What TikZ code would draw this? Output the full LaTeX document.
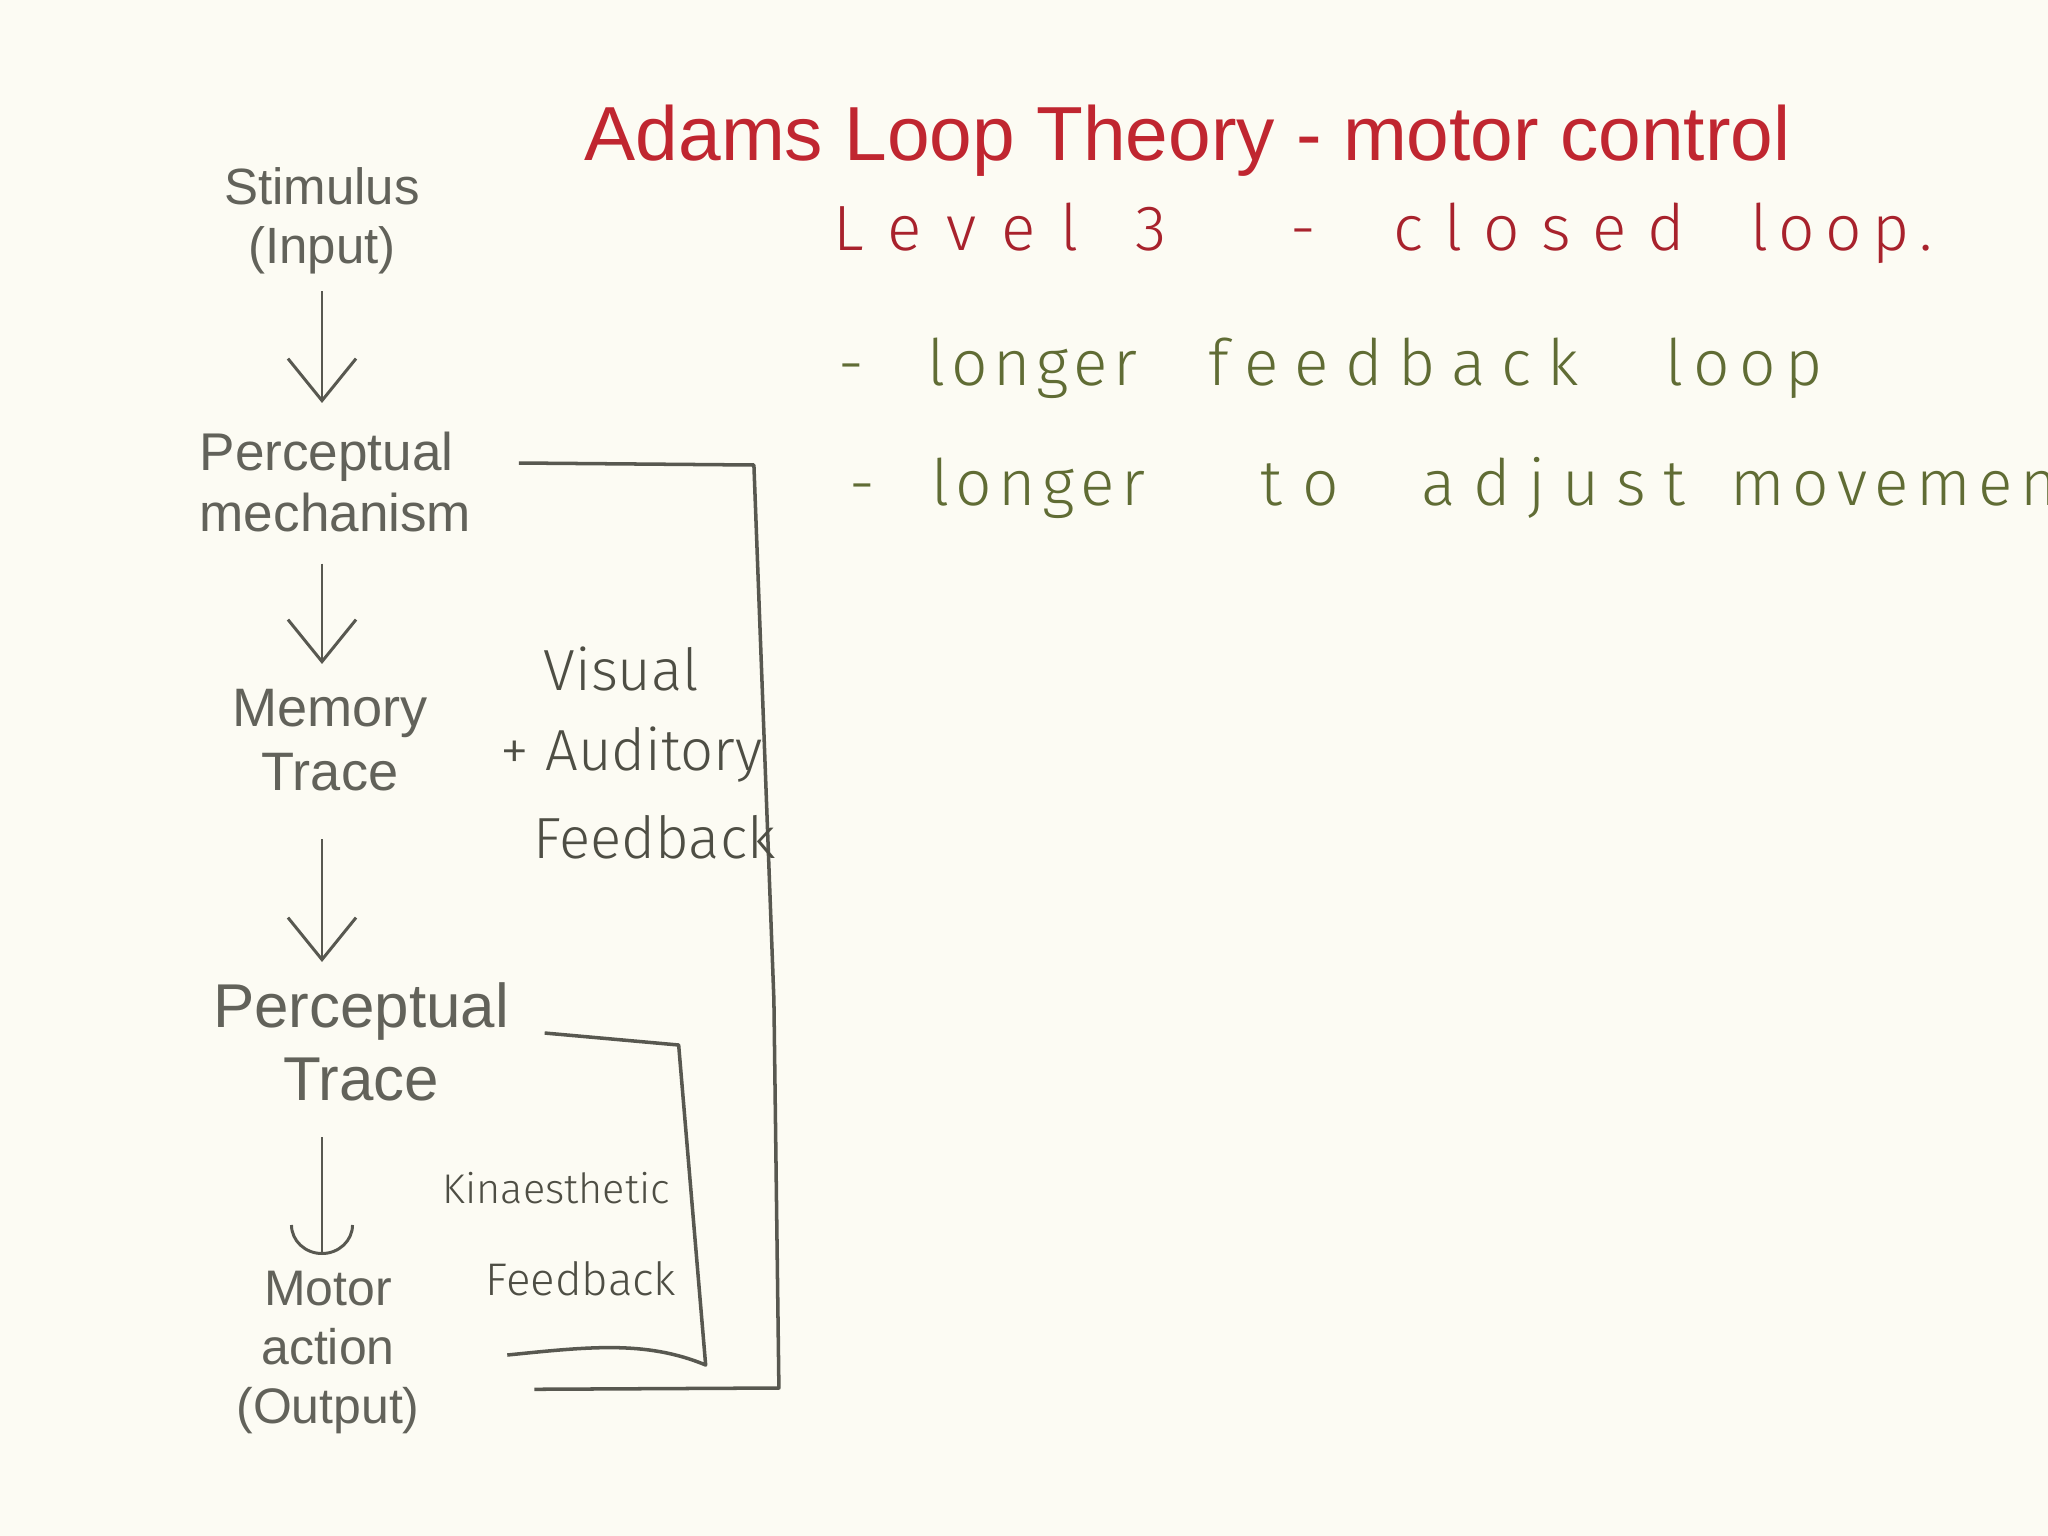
\documentclass[tikz,border=0pt]{standalone}
\usepackage{fontspec}
\setmainfont{Liberation Sans}
\newfontfamily\hand{Fira Sans Light}
\usetikzlibrary{arrows.meta, calc, positioning}
\definecolor{slide_bg}{RGB}{252,251,243}
\definecolor{slide_gray}{RGB}{98,98,90}
\definecolor{title_red}{RGB}{192,38,48}
\definecolor{pen_red}{RGB}{168,34,44}
\definecolor{pen_green}{RGB}{96,108,52}
\definecolor{pen_black}{RGB}{78,78,68}
\definecolor{line_gray}{RGB}{88,88,80}
\newcommand{\fsz}[2]{\fontsize{#1}{#2}\selectfont}
\tikzset{
    slidetext/.style={inner sep=0pt, text=slide_gray, align=center},
    pen/.style={inner sep=0pt, anchor=base west},
    flowarrow/.style={draw=line_gray, line width=0.85pt,
        -{Straight Barb[length=0.42cm, width=0.68cm]}},
    loopline/.style={draw=line_gray, line width=1pt, line join=round},
}

\begin{document}
\begin{tikzpicture}[x=0.01cm, y=-0.01cm]
    \fill[slide_bg] (0,0) rectangle (2048,1536);
    \useasboundingbox (0,0) rectangle (2048,1536);

    % title
    \node[pen, text=title_red, font=\fsz{21.8pt}{26pt}] (title) at (584,160)
        {Adams Loop Theory - motor control};

    % flow column
    \node[slidetext, anchor=north, font=\fsz{14.5pt}{16.8pt}] (stim) at (322,167)
        {Stimulus\\(Input)};
    \node[slidetext, align=left, anchor=north west, font=\fsz{15.1pt}{17.4pt}] (mech) at (199,431)
        {Perceptual\\mechanism};
    \node[slidetext, anchor=north, font=\fsz{15.4pt}{18.2pt}] (mem) at (330,689)
        {Memory\\Trace};
    \node[slidetext, anchor=north, font=\fsz{17.6pt}{20.8pt}] (ptrace) at (361,982)
        {Perceptual\\Trace};
    \node[slidetext, anchor=north, font=\fsz{14.2pt}{16.8pt}] (motor) at (328,1270)
        {Motor\\action\\(Output)};

    \coordinate (spine) at (322,0);
    \foreach \a/\b/\s/\e in {stim/mech/0.16/0.28, mech/mem/0.31/0.25, mem/ptrace/0.47/0.2}
        \draw[flowarrow, shorten <=\s cm, shorten >=\e cm] (\a.south -| spine) -- (\b.north -| spine);
    \draw[flowarrow, -{Arc Barb[length=0.3cm, width=0.64cm]}, shorten <=0.35cm, shorten >=0.15cm]
        (ptrace.south -| spine) -- (motor.north -| spine);

    % feedback loops
    \draw[loopline] ([shift={(47,32)}]mech.north east) -- ++(235,2) -- ++(20,535) -- ++(5,388)
        -- ([shift={(114,-45)}]motor.south east);
    \draw[loopline] ([shift={(35,51)}]ptrace.north east) -- ++(134,12) -- ++(27,320)
        .. controls +(-60,-25) and +(80,-8) .. ([shift={(87,85)}]motor.north east);

    % handwritten notes
    \foreach \w/\x/\ls [count=\i] in {Level/833/39, 3/1135/0, -/1290/0, closed/1393/33, loop./1750/16}
        \node[pen, text=pen_red, font={\hand\fsz{18.2pt}{20pt}\addfontfeature{LetterSpace=\ls}}]
            (lvl\i) at (\x,250) {\w};
    \foreach \w/\x/\ls [count=\i] in {-/838/0, longer/927/9, feedback/1208/25, loop/1665/15}
        \node[pen, text=pen_green, font={\hand\fsz{18.2pt}{20pt}\addfontfeature{LetterSpace=\ls}}]
            (fbk\i) at (\x,385) {\w};
    \foreach \w/\x/\ls [count=\i] in {-/849/0, longer/931/10, to/1260/33, adjust/1421/27, movement/1730/12}
        \node[pen, text=pen_green, font={\hand\fsz{18.2pt}{20pt}\addfontfeature{LetterSpace=\ls}}]
            (adj\i) at (\x,505) {\w};

    \node[pen, text=pen_black, font={\hand\fsz{16.5pt}{18pt}}] (vis) at (543,690) {Visual};
    \node[pen, text=pen_black, font={\hand\fsz{16.5pt}{18pt}}] (aud) at (500,770) {+ Auditory};
    \node[pen, text=pen_black, font={\hand\fsz{16.5pt}{18pt}}] (vafb) at (533,858) {Feedback};
    \node[pen, text=pen_black, font={\hand\fsz{11.8pt}{14pt}}] (kin) at (442,1203) {Kinaesthetic};
    \node[pen, text=pen_black, font={\hand\fsz{13pt}{15pt}}] (kinfb) at (485,1295) {Feedback};
\end{tikzpicture}
\end{document}
